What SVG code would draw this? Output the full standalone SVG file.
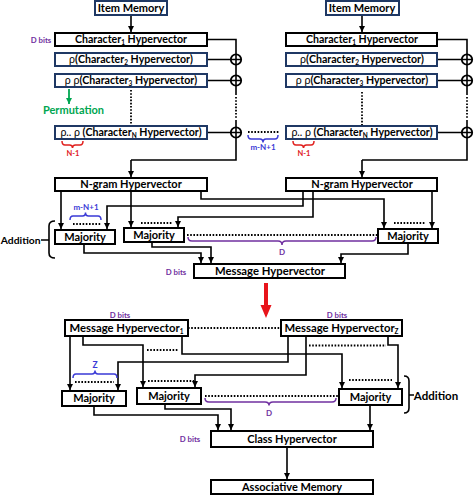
<svg xmlns="http://www.w3.org/2000/svg" width="474" height="497" viewBox="0 0 474 497">
<defs>
<style>
.bx{fill:#fff;stroke:#000;stroke-width:2}
.nv{fill:#fff;stroke:#1f3864;stroke-width:2}
.t{font-family:Lato,"Liberation Sans",Arial,sans-serif;font-weight:bold;font-size:11px;fill:#000;text-anchor:middle}
.tc{font-size:10.6px}
.tm{font-size:11.3px}
.rho{font-weight:normal}
.sub{font-size:6.5px}
.lb{font-family:Lato,"Liberation Sans",Arial,sans-serif;font-weight:bold;text-anchor:middle}
.db{font-size:7.8px;fill:#7030a0}
.bl{fill:#3a3ad6}
.pu{fill:#7030a0}
.rd{fill:#e0201e}
.ln{fill:none;stroke:#000;stroke-width:1.6}
.ar{marker-end:url(#ah)}
.dot{fill:none;stroke:#000;stroke-width:1.8;stroke-dasharray:1.6 1.6}
.xor{fill:#fff;stroke:#000;stroke-width:1.8}
.brb{fill:none;stroke:#3a3ad6;stroke-width:1.5}
.brp{fill:none;stroke:#7030a0;stroke-width:1.5}
.brr{fill:none;stroke:#e0201e;stroke-width:1.5}
</style>
<marker id="ah" viewBox="0 0 6 6" refX="6" refY="3" markerWidth="6" markerHeight="6" markerUnits="userSpaceOnUse" orient="auto"><path d="M0,0 L6,3 L0,6 z" fill="#000"/></marker>
<marker id="ahg" viewBox="0 0 6 6" refX="6" refY="3" markerWidth="6" markerHeight="6" markerUnits="userSpaceOnUse" orient="auto"><path d="M0,0 L6,3 L0,6 z" fill="#00a651"/></marker>
</defs>
<rect width="474" height="497" fill="#fff"/>

<g id="connectors">
<path class="ln ar" d="M131,15 V32"/>
<path class="ln" d="M207,39.5 H236 V95"/>
<path class="dot" d="M236,97 V119"/>
<path class="ln" d="M236,120 V160 H131"/>
<path class="ln ar" d="M131,160 V177"/>
<path class="ln" d="M207,59.5 H231 M207,80.5 H231 M207,132.5 H231"/>
<path class="dot" d="M131,90 V125"/>
<path d="M69,89 V104" fill="none" stroke="#00a651" stroke-width="1.8" marker-end="url(#ahg)"/>
<path class="ln ar" d="M362,15 V32"/>
<path class="ln" d="M437,39.5 H467 V95"/>
<path class="dot" d="M467,97 V119"/>
<path class="ln" d="M467,120 V160 H362"/>
<path class="ln ar" d="M362,160 V177"/>
<path class="ln" d="M437,59.5 H462 M437,80.5 H462 M437,132.5 H462"/>
<path class="dot" d="M362,92 V125"/>
<path class="dot" d="M248,132 H279"/>
<path class="ln ar" d="M61,191 V229"/>
<path class="ln ar" d="M303,191 V206 H107 V229"/>
<path class="ln ar" d="M131,191 V227"/>
<path class="ln ar" d="M313,191 V217 H178 V227"/>
<path class="ln ar" d="M201,191 V199 H384 V228"/>
<path class="ln ar" d="M432,191 V228"/>
<path class="dot" d="M73,224 H101 M141,223 H172 M394,223 H425 M187,235 H377"/>
<path class="ln ar" d="M84,244 V253 H201 V263"/>
<path class="ln ar" d="M152,242 V247 H211 V263"/>
<path class="ln ar" d="M408,243 V254 H341 V263"/>
<polygon points="264,283 268,283 268,305 271.5,305 266,318 260.5,305 264,305" fill="#e8141b"/>
<path class="dot" d="M188,328 H281"/>
<path class="ln ar" d="M70,336 V390"/>
<path class="ln ar" d="M83,336 V345 H143 V387"/>
<path class="ln ar" d="M182,336 V354 H342 V388"/>
<path class="ln ar" d="M288,336 V362 H118 V390"/>
<path class="ln ar" d="M306,336 V375 H195 V387"/>
<path class="ln ar" d="M388,336 V345 H398 V388"/>
<path class="dot" d="M147,350 H178 M309,345.5 H386 M75,382 H114 M148,381 H194 M349,380 H392 M205,396 H338"/>
<path class="ln ar" d="M94,406 V415 H218 V430"/>
<path class="ln ar" d="M165,404 V409 H231 V430"/>
<path class="ln ar" d="M370,405 V430"/>
<path class="ln ar" d="M287,447 V479"/>
</g>

<g id="braces">
<path class="brb" d="M248,135 Q248,139 251,139 L260,139 Q263,139 263,142.5 Q263,139 266,139 L275,139 Q278,139 278,135"/>
<path class="brr" d="M62,141 Q62,145 65,145 L69.5,145 Q72.5,145 72.5,148 Q72.5,145 75.5,145 L80,145 Q83,145 83,141"/>
<path class="brr" d="M293,141 Q293,145 296,145 L300.5,145 Q303.5,145 303.5,148 Q303.5,145 306.5,145 L311,145 Q314,145 314,141"/>
<path class="brb" d="M70,220 Q70,216 73,216 L82.5,216 Q85.5,216 85.5,212.5 Q85.5,216 88.5,216 L98,216 Q101,216 101,220"/>
<path class="brp" d="M188,237 Q188,241 192,241 L278,241 Q282,241 282,245 Q282,241 286,241 L372,241 Q376,241 376,237"/>
<path class="brb" d="M73,378 Q73,374 76,374 L92,374 Q95,374 95,370.5 Q95,374 98,374 L114,374 Q117,374 117,378"/>
<path class="brp" d="M205,398 Q205,402 209,402 L265,402 Q269,402 269,405.5 Q269,402 273,402 L332,402 Q336,402 336,398"/>
<path class="ln" d="M55,221 Q49,221 49,226 L49,253 Q49,258 55,258 M41,240 H49"/>
<path class="ln" d="M404,376 Q409,376 409,381 L409,408 Q409,413 404,413 M409,395 H414"/>
</g>

<g id="labels">
<text class="lb db" x="41" y="42.5">D bits</text>
<text class="lb" x="73.5" y="114" font-size="11" fill="#00a651">Permutation</text>
<text class="lb rd" x="73" y="156" font-size="7.5">N-1</text>
<text class="lb rd" x="304" y="156" font-size="7.5">N-1</text>
<text class="lb bl" x="263" y="150" font-size="8">m-N+1</text>
<text class="lb bl" x="86" y="210" font-size="8">m-N+1</text>
<text class="lb pu" x="282" y="255" font-size="8">D</text>
<text class="lb" x="40.5" y="243.5" font-size="10.3" fill="#000" text-anchor="end" style="text-anchor:end">Addition</text>
<text class="lb db" x="176" y="274.5">D bits</text>
<text class="lb db" x="120" y="318">D bits</text>
<text class="lb db" x="337" y="318">D bits</text>
<text class="lb bl" x="95" y="368" font-size="8.5">Z</text>
<text class="lb pu" x="269" y="416" font-size="8">D</text>
<text class="lb" x="436" y="399.5" font-size="11.5" fill="#000">Addition</text>
<text class="lb db" x="190" y="442">D bits</text>
</g>

<g id="xor-left">
<g id="xor-l2"><circle class="xor" cx="236" cy="59.5" r="5.2"/><path class="ln" d="M230.8,59.5 H241.2 M236,54.3 V64.7"/></g>
<g id="xor-l3"><circle class="xor" cx="236" cy="80.5" r="5.2"/><path class="ln" d="M230.8,80.5 H241.2 M236,75.3 V85.7"/></g>
<g id="xor-lN"><circle class="xor" cx="236" cy="132.5" r="5.2"/><path class="ln" d="M230.8,132.5 H241.2 M236,127.3 V137.7"/></g>
</g>
<g id="xor-right">
<g id="xor-r2"><circle class="xor" cx="467" cy="59.5" r="5.2"/><path class="ln" d="M461.8,59.5 H472.2 M467,54.3 V64.7"/></g>
<g id="xor-r3"><circle class="xor" cx="467" cy="80.5" r="5.2"/><path class="ln" d="M461.8,80.5 H472.2 M467,75.3 V85.7"/></g>
<g id="xor-rN"><circle class="xor" cx="467" cy="132.5" r="5.2"/><path class="ln" d="M461.8,132.5 H472.2 M467,127.3 V137.7"/></g>
</g>

<g id="item-memory-left"><rect class="nv" x="95" y="1" width="72" height="14"/><text class="t" x="131" y="11.8">Item Memory</text></g>
<g id="char1-left"><rect class="bx" x="55" y="33" width="152" height="13"/><text class="t tc" x="131" y="43.3">Character<tspan class="sub" dy="2">1</tspan><tspan dy="-2">  Hypervector</tspan></text></g>
<g id="char2-left"><rect class="nv" x="55" y="53" width="152" height="13"/><text class="t tc" x="131" y="63.3"><tspan class="rho">ρ</tspan>(Character<tspan class="sub" dy="2">2</tspan><tspan dy="-2">  Hypervector)</tspan></text></g>
<g id="char3-left"><rect class="nv" x="55" y="74" width="152" height="13"/><text class="t tc" x="131" y="84.3"><tspan class="rho">ρ ρ</tspan>(Character<tspan class="sub" dy="2">3</tspan><tspan dy="-2">  Hypervector)</tspan></text></g>
<g id="charN-left"><rect class="nv" x="55" y="126" width="152" height="13"/><text class="t tc" x="131" y="136.3"><tspan class="rho">ρ.. ρ</tspan> (Character<tspan class="sub" dy="2">N</tspan><tspan dy="-2">  Hypervector)</tspan></text></g>

<g id="item-memory-right"><rect class="nv" x="326" y="1" width="73" height="14"/><text class="t" x="362" y="11.8">Item Memory</text></g>
<g id="char1-right"><rect class="bx" x="286" y="33" width="151" height="13"/><text class="t tc" x="362" y="43.3">Character<tspan class="sub" dy="2">1</tspan><tspan dy="-2">  Hypervector</tspan></text></g>
<g id="char2-right"><rect class="nv" x="286" y="53" width="151" height="13"/><text class="t tc" x="362" y="63.3"><tspan class="rho">ρ</tspan>(Character<tspan class="sub" dy="2">2</tspan><tspan dy="-2">  Hypervector)</tspan></text></g>
<g id="char3-right"><rect class="nv" x="286" y="74" width="151" height="13"/><text class="t tc" x="362" y="84.3"><tspan class="rho">ρ ρ</tspan>(Character<tspan class="sub" dy="2">3</tspan><tspan dy="-2">  Hypervector)</tspan></text></g>
<g id="charN-right"><rect class="nv" x="286" y="126" width="151" height="13"/><text class="t tc" x="362" y="136.3"><tspan class="rho">ρ.. ρ</tspan> (Character<tspan class="sub" dy="2">N</tspan><tspan dy="-2">  Hypervector)</tspan></text></g>

<g id="ngram-left"><rect class="bx" x="55" y="178" width="152" height="13"/><text class="t" x="131" y="188.3">N-gram Hypervector</text></g>
<g id="ngram-right"><rect class="bx" x="286" y="178" width="151" height="13"/><text class="t" x="362" y="188.3">N-gram Hypervector</text></g>

<g id="majority-1"><rect class="bx" x="55" y="230" width="60" height="14"/><text class="t" x="85" y="240.8">Majority</text></g>
<g id="majority-2"><rect class="bx" x="124" y="228" width="60" height="14"/><text class="t" x="154" y="238.8">Majority</text></g>
<g id="majority-D"><rect class="bx" x="378" y="229" width="60" height="14"/><text class="t" x="408" y="239.8">Majority</text></g>

<g id="message"><rect class="bx" x="194" y="264" width="151" height="14"/><text class="t tm" x="270" y="274.8">Message Hypervector</text></g>

<g id="message-1"><rect class="bx" x="65" y="320" width="123" height="16"/><text class="t tm" x="126.5" y="331.8">Message Hypervector<tspan class="sub" dy="2">1</tspan></text></g>
<g id="message-Z"><rect class="bx" x="281" y="320" width="121" height="16"/><text class="t tm" x="341.5" y="331.8">Message Hypervector<tspan class="sub" dy="2">Z</tspan></text></g>

<g id="majority2-1"><rect class="bx" x="62" y="391" width="64" height="15"/><text class="t" x="94" y="402.3">Majority</text></g>
<g id="majority2-2"><rect class="bx" x="137" y="388" width="64" height="16"/><text class="t" x="169" y="399.8">Majority</text></g>
<g id="majority2-D"><rect class="bx" x="339" y="389" width="63" height="16"/><text class="t" x="370.5" y="400.8">Majority</text></g>

<g id="class"><rect class="bx" x="211" y="431" width="162" height="16"/><text class="t" x="292" y="442.8">Class Hypervector</text></g>
<g id="associative-memory"><rect class="bx" x="211" y="480" width="162" height="14"/><text class="t" x="292" y="490.8">Associative Memory</text></g>
</svg>
